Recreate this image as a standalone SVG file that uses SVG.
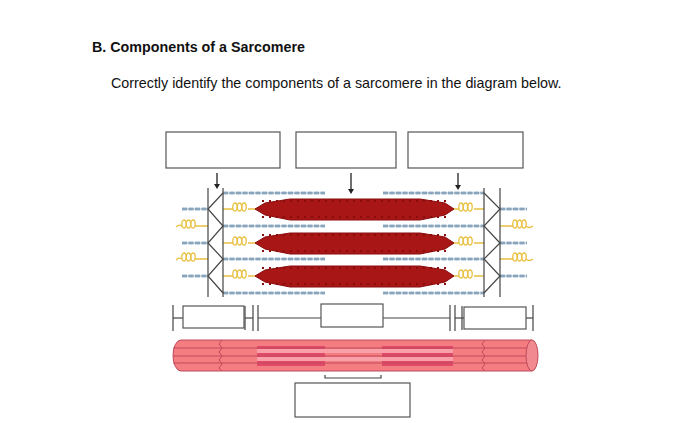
<svg xmlns="http://www.w3.org/2000/svg" width="700" height="423" viewBox="0 0 700 423">
<style>
text{font-family:"Liberation Sans",Arial,sans-serif;fill:#111}
.box{fill:#fff;stroke:#555;stroke-width:1.2}
.ln{stroke:#444;stroke-width:1.2;fill:none}
.act{stroke:#9cb6cc;stroke-width:3.2;stroke-dasharray:5 1.5;fill:none}
.act2{stroke:#5f7f9c;stroke-width:0.6;fill:none}
.tit{stroke:#e8c040;stroke-width:1.3;fill:none}
.my{fill:#a81616;stroke:#8a0c0c;stroke-width:1}
</style>
<defs>
<g id="coil"><ellipse cx="0" cy="-3" rx="2.2" ry="4" class="tit"/><ellipse cx="4.5" cy="-3" rx="2.2" ry="4" class="tit"/><ellipse cx="9" cy="-3" rx="2.2" ry="4" class="tit"/></g>
</defs>
<rect width="700" height="423" fill="#fff"/>
<text x="92" y="52" font-size="14.3" font-weight="bold">B. Components of a Sarcomere</text>
<text x="111" y="88" font-size="14.3">Correctly identify the components of a sarcomere in the diagram below.</text>
<g id="box-top-1"><rect class="box" x="166" y="132" width="114" height="36"/></g>
<g id="box-top-2"><rect class="box" x="296" y="132" width="100" height="36"/></g>
<g id="box-top-3"><rect class="box" x="408" y="132" width="115" height="36"/></g>
<g id="connectors">
<line x1="217" y1="173" x2="217" y2="186" stroke="#222" stroke-width="1.3"/><path d="M214,184 L220,184 L217,189z" fill="#222"/>
<line x1="351" y1="173" x2="351" y2="191" stroke="#222" stroke-width="1.3"/><path d="M348,189 L354,189 L351,194z" fill="#222"/>
<line x1="458" y1="173" x2="458" y2="187" stroke="#222" stroke-width="1.3"/><path d="M455,185 L461,185 L458,190z" fill="#222"/>
</g>
<g id="sarcomere">
<g class="act">
<path d="M223,193H325M383,193H484M223,226H325M383,226H484M223,259H325M383,259H484M223,293H325M383,293H484"/>
<path d="M182,209H208M182,243H208M182,276H208M500,209H527M500,243H527M500,276H527"/>
</g>
<g class="act2">
<path d="M223,193H325M383,193H484M223,226H325M383,226H484M223,259H325M383,259H484M223,293H325M383,293H484"/>
<path d="M182,209H208M182,243H208M182,276H208M500,209H527M500,243H527M500,276H527"/>
</g>
<g class="tit">
<path d="M176,227 q3,-3 6,-1 M195,226H208 M176,260 q3,-3 6,-1 M195,259H208"/>
<path d="M500,226H513 M526,226 q3,3 7,0 M500,259H513 M526,259 q3,3 7,0"/>
<path d="M223,209H233 M248,209H256 M223,243H233 M248,243H256 M223,276H233 M248,276H256"/>
<path d="M452,209H459 M474,209H484 M452,243H459 M474,243H484 M452,276H459 M474,276H484"/>
</g>
<use href="#coil" x="184" y="227"/><use href="#coil" x="184" y="260"/>
<use href="#coil" x="515" y="227"/><use href="#coil" x="515" y="260"/>
<use href="#coil" x="235" y="210"/><use href="#coil" x="235" y="244"/><use href="#coil" x="235" y="277"/>
<use href="#coil" x="461" y="210"/><use href="#coil" x="461" y="244"/><use href="#coil" x="461" y="277"/>
<g class="my">
<path d="M255,209 L265,203 L290,199 L420,199 L445,203 L454,209 L445,215 L420,220 L290,220 L265,215z"/>
<path d="M255,243 L265,237 L290,233 L420,233 L445,237 L454,243 L445,249 L420,254 L290,254 L265,249z"/>
<path d="M255,276 L265,270 L290,266 L420,266 L445,270 L454,276 L445,282 L420,287 L290,287 L265,282z"/>
</g>
<g stroke="#8a0c0c" stroke-width="2" stroke-dasharray="2 5">
<path d="M262,201H448M262,217H448M262,235H448M262,251H448M262,268H448M262,284H448"/>
</g>
<g class="ln">
<line x1="208" y1="188" x2="208" y2="297"/><line x1="223" y1="188" x2="223" y2="297"/>
<line x1="484" y1="188" x2="484" y2="297"/><line x1="500" y1="188" x2="500" y2="297"/>
<polyline points="223,193 208,209 223,226 208,243 223,259 208,276 223,293"/>
<polyline points="484,193 500,209 484,226 500,243 484,259 500,276 484,293"/>
</g>
</g>
<g id="brackets" class="ln">
<line x1="173" y1="305" x2="173" y2="331"/><line x1="173" y1="318" x2="183" y2="318"/>
<line x1="245" y1="318" x2="253" y2="318"/><line x1="245" y1="306" x2="245" y2="330"/>
<line x1="253" y1="305" x2="253" y2="331"/><line x1="258" y1="305" x2="258" y2="331"/>
<line x1="258" y1="318" x2="321" y2="318"/><line x1="383" y1="318" x2="450" y2="318"/>
<line x1="450" y1="305" x2="450" y2="331"/><line x1="455" y1="305" x2="455" y2="331"/>
<line x1="455" y1="318" x2="464" y2="318"/><line x1="462" y1="306" x2="462" y2="330"/>
<line x1="526" y1="318" x2="533" y2="318"/><line x1="533" y1="305" x2="533" y2="331"/>
</g>
<g id="box-mid-1"><rect class="box" x="183" y="306" width="61" height="22"/></g>
<g id="box-mid-2"><rect class="box" x="321" y="304" width="62" height="23"/></g>
<g id="box-mid-3"><rect class="box" x="464" y="307" width="62" height="22"/></g>
<g id="fiber">
<path d="M181,340 H532 V371 H181 A8,15.5 0 0 1 181,340z" fill="#f47d82" stroke="#c04858" stroke-width="1"/>
<rect x="257" y="346" width="196" height="20" fill="#e04a68"/>
<rect x="325" y="346" width="57" height="20" fill="#f47d82"/>
<g fill="#f9a0a8"><rect x="257" y="349" width="196" height="4"/><rect x="257" y="357" width="196" height="4"/></g>
<g stroke="#c24a5a" stroke-width="1" fill="none">
<path d="M173,348H532M173,356H532M173,363H532"/>
<path d="M222,340 l-3,4 3,4 -3,4 3,4 -3,4 3,4 -3,4 3,3"/>
<path d="M485,340 l-3,4 3,4 -3,4 3,4 -3,4 3,4 -3,4 3,3"/>
</g>
<ellipse cx="532" cy="355.5" rx="6" ry="15.5" fill="#f08a90" stroke="#c04858" stroke-width="1"/>
</g>
<g id="bracket-bottom" class="ln"><polyline points="325,375 325,378 381,378 381,375"/></g>
<g id="box-bottom"><rect class="box" x="295" y="383" width="115" height="34"/></g>
</svg>
